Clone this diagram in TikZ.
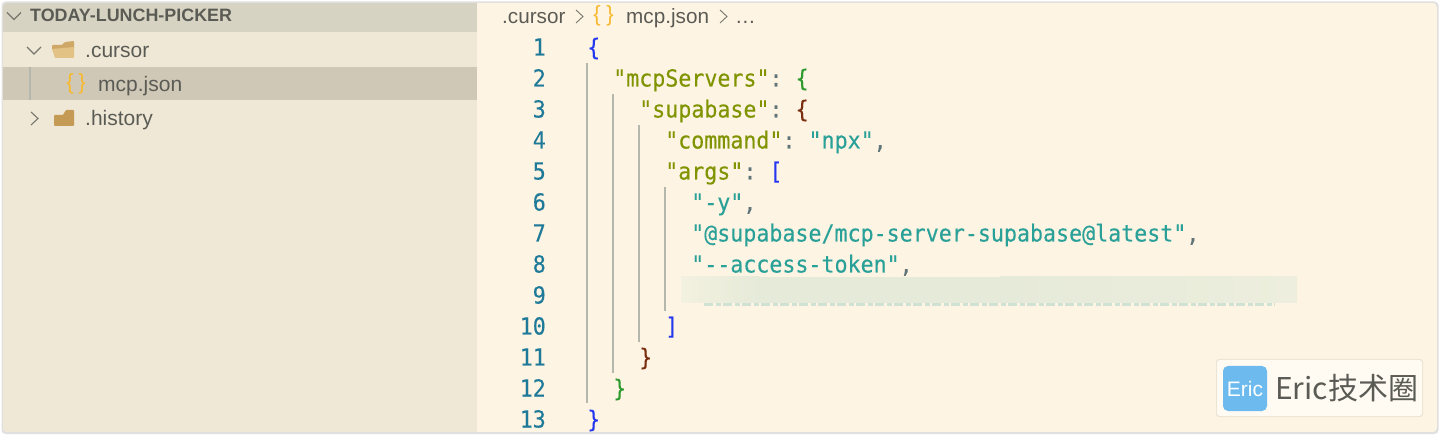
\documentclass[tikz,border=0pt]{standalone}
\usepackage{fontspec}
\setmainfont{Liberation Sans}
\newfontfamily\codefont[FakeStretch=0.925,FakeBold=0.25]{DejaVu Sans Mono}
\newfontfamily\cjkfont{Noto Sans CJK SC}
\definecolor{sidebar}{HTML}{EFE8D6}
\definecolor{headbar}{HTML}{D7D3C2}
\definecolor{selbar}{HTML}{CFC8B6}
\definecolor{editor}{HTML}{FEF4E3}
\definecolor{uitext}{HTML}{5B5B55}
\definecolor{chevc}{HTML}{77776F}
\definecolor{keyc}{HTML}{7F9400}
\definecolor{strc}{HTML}{2AA198}
\definecolor{numc}{HTML}{1F7A99}
\definecolor{punc}{HTML}{5F7478}
\definecolor{bluec}{HTML}{2438F0}
\definecolor{greenc}{HTML}{2E9A2E}
\definecolor{brownc}{HTML}{7A3010}
\definecolor{guide}{HTML}{B4B8AC}
\definecolor{iconc}{HTML}{F7B92F}
\definecolor{folderback}{HTML}{CFA868}
\definecolor{folderfront}{HTML}{E2C285}
\definecolor{folderclosed}{HTML}{C49A55}
\definecolor{bandedge}{HTML}{F3F1E0}
\definecolor{bandmid}{HTML}{E6EAD8}
\definecolor{bandend}{HTML}{EDEEDD}
\definecolor{wmblue}{HTML}{6CBAEE}
\definecolor{wmbox}{HTML}{FFFBF3}
\definecolor{wmedge}{HTML}{EBE4D3}
\tikzset{
  x=1pt,y=-1pt,
  uilabel/.style={inner sep=0pt,anchor=base west,text=uitext,font=\fontsize{21}{24}\selectfont},
  crumb/.style={uilabel,font=\fontsize{20.7}{24}\selectfont},
  lnum/.style={inner sep=0pt,anchor=base east,text=numc,font=\codefont\fontsize{23.4}{24}\selectfont},
  code/.style={inner sep=0pt,anchor=base west,font=\codefont\fontsize{23.4}{24}\selectfont\frenchspacing},
  indent/.style={draw=guide,line width=1.3pt},
  chev/.style={draw=chevc,line width=1.1pt,line join=miter},
  brace/.style={inner sep=0pt,text=iconc,font=\fontsize{22}{24}\selectfont},
}
\newcommand{\K}[1]{\textcolor{keyc}{#1}}
\newcommand{\St}[1]{\textcolor{strc}{#1}}
\newcommand{\Pn}[1]{\textcolor{punc}{#1}}
\newcommand{\Bb}[1]{\textcolor{bluec}{#1}}
\newcommand{\Bg}[1]{\textcolor{greenc}{#1}}
\newcommand{\Br}[1]{\textcolor{brownc}{#1}}
\begin{document}
\begin{tikzpicture}
\useasboundingbox (0,0) rectangle (1440,435);
\fill[white] (0,0) rectangle (1440,435);
\fill[black!12,rounded corners=4pt] (1.5,1.5) rectangle (1438.5,434);
% panels
\begin{scope}
\clip[rounded corners=4pt] (3,3) rectangle (1437,432);
\fill[editor] (3,3) rectangle (1437,432);
\fill[sidebar] (3,3) rectangle (477,432);
\fill[headbar] (3,3) rectangle (477,32);
\fill[selbar] (3,67) rectangle (477,100);
\end{scope}
\draw[guide,line width=1.2pt] (30,67) -- (30,100);
% sidebar
\draw[chev] (7,12.5) -- (14,19.5) -- (21,12.5);
\node[uilabel,font=\bfseries\fontsize{17.9}{20}\selectfont] (title) at (30,22) {TODAY-LUNCH-PICKER};
\draw[chev] (27,47) -- (34,54) -- (41,47);
\draw[chev] (31,112) -- (38,118.5) -- (31,125);
% open folder
\fill[folderback,rounded corners=.8pt] (52,50) -- (52,45) -- (62,45) -- (65,42) -- (74,41) -- (74,50) -- cycle;
\fill[folderfront,rounded corners=.8pt] (52,49) -- (74,47) -- (74,58) -- (55,58) -- cycle;
\node[uilabel] (cursor) at (85,58) {.cursor};
\node[brace] (mcpiconl) at (70,84) {\{};
\node[brace] (mcpiconr) at (82,84) {\}};
\node[uilabel] (mcp) at (98,92) {mcp.json};
% closed folder
\fill[folderclosed,rounded corners=.8pt] (54,115) -- (63,115) -- (66,110) -- (74,110) -- (74,126) -- (54,126) -- cycle;
\node[uilabel] (hist) at (85,126) {.history};
% breadcrumb
\node[crumb] (bc1) at (502,23.5) {.cursor};
\draw[chev,line width=.9pt] (576,10) -- (583,16.5) -- (576,23);
\node[brace] (bcil) at (597,16) {\{};
\node[brace] (bcir) at (610,16) {\}};
\node[crumb] (bc2) at (626,23.5) {mcp.json};
\draw[chev,line width=.9pt] (720,10) -- (727,16.5) -- (720,23);
\node[crumb] (bc3) at (735,23.5) {…};
% line numbers
\foreach \n [evaluate=\n as \yy using {48+31*(\n-1)+7.5}] in {1,...,13}
  \node[lnum] (ln\n) at (546,\yy) {\n};
% indent guides
\coordinate (g1a) at (587,63);  \coordinate (g1b) at (587,403);
\coordinate (g2a) at (613,94);  \coordinate (g2b) at (613,373);
\coordinate (g3a) at (639,125); \coordinate (g3b) at (639,342);
\coordinate (g4a) at (665,187); \coordinate (g4b) at (665,311);
\draw[indent] (g1a) -- (g1b);
\draw[indent] (g2a) -- (g2b);
\draw[indent] (g3a) -- (g3b);
\draw[indent] (g4a) -- (g4b);
% code
\node[code] (c1) at (587,55.5) {\Bb{\{}};
\node[code] (c2) at (613,86.5) {\K{"mcpServers"}\Pn{: }\Bg{\{}};
\node[code] (c3) at (639,117.5) {\K{"supabase"}\Pn{: }\Br{\{}};
\node[code] (c4) at (665,148.5) {\K{"command"}\Pn{: }\St{"npx"}\Pn{,}};
\node[code] (c5) at (665,179.5) {\K{"args"}\Pn{: }\Bb{[}};
\node[code] (c6) at (691,210.5) {\St{"-y"}\Pn{,}};
\node[code] (c7) at (691,241.5) {\St{"@supabase/mcp-server-supabase@latest"}\Pn{,}};
\node[code] (c8) at (691,272.5) {\St{"--access-token"}\Pn{,}};
\node[code] (c10) at (665,334.5) {\Bb{]}};
\node[code] (c11) at (639,365.5) {\Br{\}}};
\node[code] (c12) at (613,396.5) {\Bg{\}}};
\node[code] (c13) at (587,427.5) {\Bb{\}}};
% blurred token
\draw[strc!22!editor,line width=4pt,dash pattern=on 9pt off 3pt on 5pt off 2pt] (704,304.5) -- (1275,304.5);
\shade[left color=bandedge,right color=bandmid] (681,277) rectangle (760,303);
\fill[bandmid] (760,277) rectangle (1000,303);
\shade[left color=bandmid,right color=bandend] (1000,277) rectangle (1297,303);
% watermark
\fill[wmedge,rounded corners=3pt] (1216,359) rectangle (1423,417);
\fill[wmbox,rounded corners=3pt] (1217,360) rectangle (1422,416);
\fill[wmblue,rounded corners=5pt] (1223,366) rectangle (1267,411);
\node[inner sep=0pt,text=white,font=\fontsize{21}{24}\selectfont] (wm1) at (1245,389) {Eric};
\node[inner sep=0pt,anchor=base west,text=uitext,font=\cjkfont\fontsize{30}{32}\selectfont] (wm2) at (1275,399.5) {Eric技术圈};
\end{tikzpicture}
\end{document}
